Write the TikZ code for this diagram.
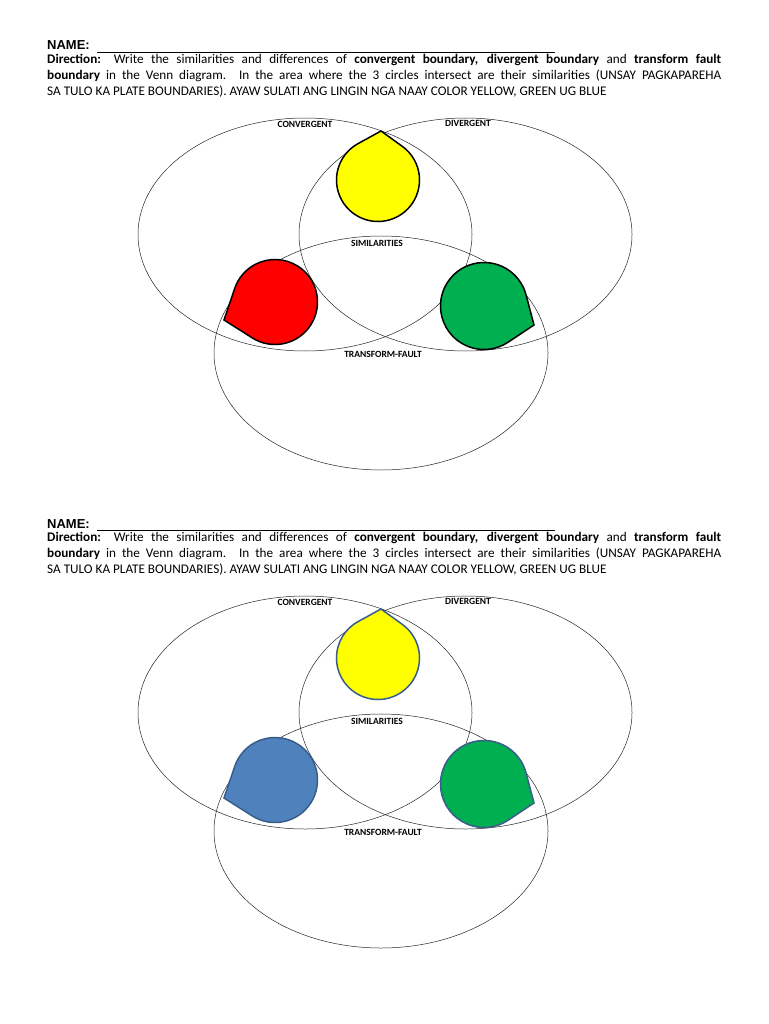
\documentclass[tikz,border=0pt]{standalone}
\usepackage{fontspec}
\setmainfont{Carlito}
\newfontfamily\arialf{Liberation Sans}
\usetikzlibrary{calc}
\definecolor{ygold}{RGB}{255,255,0}
\definecolor{rred}{RGB}{255,0,0}
\definecolor{ggreen}{RGB}{0,176,80}
\definecolor{bblue}{RGB}{79,129,189}
\definecolor{bedge}{RGB}{56,93,138}
\tikzset{
 venn/.style={draw=black!85,line width=0.5pt},
 lbl/.style={font=\bfseries\fontsize{9.5}{10}\selectfont,inner sep=0pt},
}
% tip, center, radius, fill, edge
\newcommand\mydrop[5]{%
 \draw[fill=#4,draw=#5,line width=1.5pt,line join=miter]
  let \p1=(#1), \p2=(#2), \n1={atan2(\y1-\y2,\x1-\x2)}, \n2={acos(#3/veclen(\x1-\x2,\y1-\y2))}
  in (#1) -- ([shift={(\n1+\n2:#3)}]#2) arc[start angle=\n1+\n2, end angle=\n1+360-\n2, radius=#3] -- cycle;}
\newcommand\mysheet[3]{%
 \node[font=\arialf\bfseries\fontsize{13}{15}\selectfont,anchor=base west,inner sep=0pt] (nm) at (47,-50) {NAME:};
 \draw[line width=0.6pt] (97,-52) -- (555,-52);
 \node[anchor=north west,inner sep=0pt,text width=674pt,align=justify,font=\fontsize{13.2}{16}\selectfont] (dir) at (47,-54)
  {\textbf{Direction:} Write the similarities and differences of \textbf{convergent boundary, divergent boundary} and \textbf{transform fault\linebreak boundary} in the Venn diagram. In the area where the 3 circles intersect are their similarities (UNSAY PAGKAPAREHA\linebreak SA TULO KA PLATE BOUNDARIES). AYAW SULATI ANG LINGIN NGA NAAY COLOR YELLOW, GREEN UG BLUE};
 \draw[venn] (305,-234.5) ellipse[x radius=167, y radius=116.5];
 \draw[venn] (465.5,-234.5) ellipse[x radius=166.5, y radius=116.5];
 \draw[venn] (381,-353) ellipse[x radius=167, y radius=117];
 \coordinate (yt) at (381,-131); \coordinate (yc) at (378,-180);
 \coordinate (rt) at (224,-320); \coordinate (rc) at (275,-302);
 \coordinate (gt) at (534,-325); \coordinate (gc) at (484,-306);
 \mydrop{yt}{yc}{41.5}{ygold}{#3}
 \mydrop{rt}{rc}{42.5}{#1}{#2}
 \mydrop{gt}{gc}{43.5}{ggreen}{#3}
 \node[lbl] (cv) at (305,-124) {CONVERGENT};
 \node[lbl] (dv) at (468,-123) {DIVERGENT};
 \node[lbl] (sm) at (377,-243) {SIMILARITIES};
 \node[lbl] (tf) at (383,-354) {TRANSFORM-FAULT};
}
\begin{document}
\begin{tikzpicture}[x=1pt,y=1pt]
\useasboundingbox[fill=white] (0,0) rectangle (768,-1024);
\mysheet{rred}{black}{black}
\begin{scope}[yshift=-478pt]
\mysheet{bblue}{bedge}{bedge}
\end{scope}
\end{tikzpicture}
\end{document}
